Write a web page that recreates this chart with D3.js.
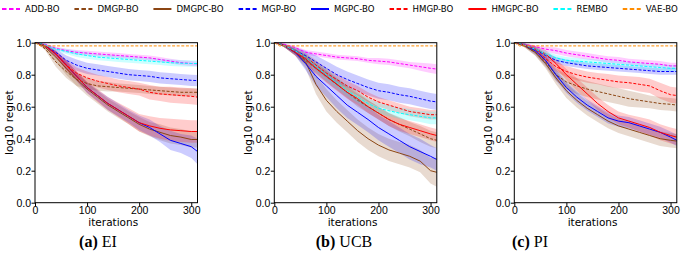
<!DOCTYPE html>
<html lang="en">
<head>
<meta charset="UTF-8">
<title>log10 regret vs iterations</title>
<script src="https://d3js.org/d3.v7.min.js"></script>
<style>
  html, body { margin:0; padding:0; background:#fff; }
  svg { display:block; font-family:"DejaVu Sans", sans-serif; }
  .axis path, .axis line { stroke:#000; }
  .axis text { font-size:10.5px; fill:#000; }
</style>
</head>
<body>
<div id="chart"></div>
<script>
// ---- data ----
const methods = ["ADD-BO","DMGP-BO","DMGPC-BO","MGP-BO","MGPC-BO","HMGP-BO","HMGPC-BO","REMBO","VAE-BO"];
const colors  = ["#ff00ff","#8b4513","#8b4513","#0000ff","#0000ff","#ff0000","#ff0000","#00ffff","#ff8c00"];
const dashed  = [true,true,false,true,false,true,false,true,true];
const iters   = [0,10,20,40,60,80,100,120,140,160,180,200,220,240,260,280,300,312];
const xTicks  = [0,100,200,300];
const yTicks  = [0,0.2,0.4,0.6,0.8,1.0];
const panelCaps = [["(a)"," EI"],["(b)"," UCB"],["(c)"," PI"]];

const eiMean = [
  [1,0.995,0.99,0.965,0.95,0.94,0.935,0.93,0.925,0.92,0.915,0.91,0.905,0.895,0.885,0.875,0.87,0.868],
  [1,0.985,0.96,0.88,0.82,0.77,0.745,0.73,0.725,0.72,0.715,0.71,0.705,0.70,0.695,0.69,0.69,0.69],
  [1,0.99,0.97,0.91,0.84,0.77,0.71,0.66,0.61,0.57,0.53,0.49,0.46,0.44,0.42,0.41,0.395,0.395],
  [1,0.995,0.98,0.94,0.89,0.86,0.84,0.83,0.82,0.81,0.80,0.795,0.79,0.78,0.775,0.77,0.765,0.763],
  [1,0.995,0.98,0.93,0.86,0.79,0.72,0.67,0.62,0.58,0.54,0.50,0.47,0.43,0.39,0.37,0.35,0.32],
  [1,0.995,0.98,0.93,0.86,0.81,0.78,0.76,0.745,0.73,0.72,0.71,0.69,0.68,0.675,0.67,0.665,0.66],
  [1,0.995,0.98,0.93,0.86,0.79,0.72,0.67,0.62,0.58,0.54,0.50,0.48,0.465,0.455,0.45,0.445,0.445],
  [1,0.995,0.985,0.96,0.945,0.93,0.92,0.91,0.905,0.90,0.895,0.89,0.885,0.88,0.875,0.872,0.87,0.87],
  [1,0.98,0.98,0.98,0.98,0.98,0.98,0.98,0.98,0.98,0.98,0.98,0.98,0.98,0.98,0.98,0.98,0.98]
];
const eiBand = [
  [0,0,0.005,0.01,0.012,0.015,0.015,0.015,0.015,0.015,0.015,0.015,0.015,0.015,0.015,0.015,0.015,0.015],
  [0,0.005,0.01,0.03,0.04,0.04,0.035,0.03,0.03,0.025,0.025,0.025,0.025,0.025,0.025,0.025,0.025,0.025],
  [0,0.005,0.01,0.03,0.04,0.04,0.04,0.04,0.04,0.04,0.04,0.045,0.045,0.05,0.05,0.05,0.05,0.05],
  [0,0.005,0.01,0.02,0.03,0.035,0.035,0.035,0.035,0.035,0.035,0.035,0.035,0.035,0.035,0.035,0.035,0.035],
  [0,0.005,0.01,0.02,0.03,0.03,0.035,0.035,0.04,0.04,0.04,0.045,0.05,0.05,0.06,0.06,0.07,0.08],
  [0,0.005,0.01,0.02,0.03,0.035,0.04,0.04,0.04,0.04,0.04,0.04,0.045,0.045,0.05,0.05,0.05,0.05],
  [0,0.005,0.01,0.02,0.03,0.03,0.035,0.04,0.04,0.045,0.05,0.055,0.06,0.065,0.07,0.07,0.07,0.07],
  [0,0.005,0.005,0.01,0.015,0.02,0.02,0.02,0.02,0.02,0.02,0.02,0.02,0.02,0.02,0.02,0.02,0.02],
  [0,0,0,0,0,0,0,0,0,0,0,0,0,0,0,0,0,0]
];

const ucbMean = [
  [1,0.995,0.99,0.97,0.94,0.93,0.92,0.91,0.905,0.90,0.89,0.885,0.88,0.87,0.86,0.85,0.84,0.835],
  [1,0.99,0.98,0.94,0.89,0.84,0.79,0.74,0.69,0.64,0.60,0.56,0.52,0.49,0.46,0.43,0.40,0.39],
  [1,0.99,0.98,0.94,0.88,0.74,0.64,0.57,0.51,0.45,0.40,0.36,0.33,0.31,0.29,0.26,0.20,0.19],
  [1,0.995,0.98,0.95,0.92,0.88,0.84,0.80,0.77,0.745,0.72,0.70,0.69,0.675,0.665,0.65,0.635,0.63],
  [1,0.995,0.98,0.94,0.87,0.79,0.73,0.67,0.61,0.565,0.52,0.47,0.43,0.39,0.35,0.32,0.29,0.27],
  [1,0.995,0.98,0.95,0.91,0.86,0.81,0.77,0.73,0.70,0.66,0.63,0.61,0.59,0.57,0.56,0.55,0.55],
  [1,0.995,0.98,0.94,0.90,0.84,0.79,0.74,0.69,0.65,0.60,0.56,0.52,0.49,0.47,0.45,0.43,0.42],
  [1,0.995,0.98,0.95,0.91,0.85,0.80,0.75,0.70,0.66,0.62,0.59,0.575,0.56,0.55,0.54,0.53,0.53],
  [1,0.98,0.98,0.98,0.98,0.98,0.98,0.98,0.98,0.98,0.98,0.98,0.98,0.98,0.98,0.98,0.98,0.98]
];
const ucbBand = [
  [0,0,0.005,0.01,0.015,0.015,0.015,0.015,0.015,0.015,0.015,0.02,0.02,0.02,0.02,0.025,0.03,0.03],
  [0,0.005,0.01,0.02,0.03,0.03,0.035,0.035,0.035,0.04,0.04,0.04,0.04,0.045,0.045,0.05,0.05,0.05],
  [0,0.005,0.01,0.02,0.04,0.06,0.07,0.07,0.07,0.07,0.07,0.07,0.07,0.07,0.07,0.07,0.08,0.09],
  [0,0.005,0.01,0.02,0.03,0.04,0.045,0.05,0.05,0.05,0.05,0.05,0.05,0.05,0.05,0.05,0.05,0.05],
  [0,0.005,0.01,0.02,0.04,0.06,0.07,0.08,0.08,0.08,0.08,0.08,0.08,0.08,0.08,0.08,0.07,0.07],
  [0,0.005,0.01,0.02,0.025,0.03,0.03,0.03,0.03,0.03,0.03,0.03,0.03,0.03,0.03,0.03,0.03,0.03],
  [0,0.005,0.01,0.02,0.03,0.035,0.04,0.04,0.04,0.04,0.04,0.04,0.04,0.04,0.04,0.04,0.04,0.04],
  [0,0.005,0.01,0.02,0.025,0.03,0.035,0.035,0.035,0.035,0.035,0.035,0.035,0.035,0.035,0.035,0.04,0.04],
  [0,0,0,0,0,0,0,0,0,0,0,0,0,0,0,0,0,0]
];

const piMean = [
  [1,0.995,0.99,0.975,0.96,0.95,0.935,0.925,0.915,0.905,0.895,0.89,0.88,0.875,0.87,0.865,0.855,0.855],
  [1,0.99,0.98,0.94,0.88,0.80,0.755,0.73,0.71,0.695,0.68,0.665,0.65,0.64,0.63,0.62,0.615,0.61],
  [1,0.99,0.98,0.94,0.87,0.78,0.70,0.64,0.59,0.55,0.51,0.48,0.46,0.44,0.42,0.40,0.39,0.385],
  [1,0.995,0.985,0.96,0.92,0.89,0.875,0.865,0.855,0.85,0.845,0.84,0.835,0.83,0.825,0.82,0.82,0.82],
  [1,0.995,0.985,0.95,0.89,0.80,0.72,0.66,0.61,0.57,0.53,0.51,0.50,0.48,0.46,0.44,0.41,0.39],
  [1,0.995,0.985,0.96,0.90,0.85,0.82,0.80,0.785,0.775,0.765,0.755,0.75,0.74,0.73,0.70,0.675,0.67],
  [1,0.995,0.985,0.96,0.93,0.87,0.80,0.74,0.68,0.62,0.57,0.53,0.51,0.49,0.47,0.44,0.42,0.41],
  [1,0.995,0.985,0.96,0.93,0.905,0.89,0.885,0.88,0.875,0.87,0.865,0.86,0.855,0.85,0.845,0.84,0.84],
  [1,0.98,0.98,0.98,0.98,0.98,0.98,0.98,0.98,0.98,0.98,0.98,0.98,0.98,0.98,0.98,0.98,0.98]
];
const piBand = [
  [0,0,0.005,0.01,0.015,0.02,0.02,0.02,0.02,0.02,0.02,0.02,0.02,0.02,0.02,0.02,0.02,0.02],
  [0,0.005,0.01,0.02,0.03,0.04,0.045,0.05,0.05,0.05,0.05,0.05,0.05,0.045,0.04,0.04,0.04,0.04],
  [0,0.005,0.01,0.02,0.03,0.04,0.045,0.045,0.045,0.045,0.045,0.045,0.045,0.045,0.045,0.045,0.045,0.045],
  [0,0.005,0.01,0.015,0.02,0.02,0.02,0.02,0.02,0.02,0.02,0.02,0.02,0.02,0.02,0.02,0.02,0.02],
  [0,0.005,0.01,0.02,0.03,0.035,0.035,0.035,0.035,0.035,0.035,0.035,0.035,0.035,0.035,0.035,0.035,0.035],
  [0,0.005,0.01,0.02,0.025,0.03,0.035,0.035,0.035,0.035,0.04,0.04,0.04,0.045,0.045,0.05,0.05,0.05],
  [0,0.005,0.01,0.02,0.025,0.03,0.035,0.04,0.04,0.04,0.04,0.04,0.04,0.045,0.05,0.05,0.05,0.05],
  [0,0.005,0.01,0.015,0.02,0.02,0.02,0.02,0.02,0.02,0.02,0.02,0.02,0.02,0.02,0.02,0.02,0.02],
  [0,0,0,0,0,0,0,0,0,0,0,0,0,0,0,0,0,0]
];

// ---- layout ----
const W=685, H=254;
const panels=[
  {left:35,   mean:eiMean,  band:eiBand,  capX:98},
  {left:274.3,mean:ucbMean, band:ucbBand, capX:344},
  {left:514.3,mean:piMean,  band:piBand,  capX:530}
];
const pw=162.5, plotTop=42.7, plotBottom=202.7;

const svg=d3.select("#chart").append("svg").attr("width",W).attr("height",H);

// legend
let lx=2;
methods.forEach((m,i)=>{
  svg.append("line").attr("x1",lx).attr("x2",lx+18).attr("y1",9).attr("y2",9)
    .attr("stroke",colors[i]).attr("stroke-width",2)
    .attr("stroke-dasharray",dashed[i]?"4.5,2.5":null);
  const t=svg.append("text").attr("x",lx+23).attr("y",12.2)
    .attr("font-size","8.6px").attr("fill","#000").text(m);
  lx+=23+t.node().getComputedTextLength()+15;
});

panels.forEach((p,pi)=>{
  const x=d3.scaleLinear().domain([0,312]).range([p.left,p.left+pw]);
  const y=d3.scaleLinear().domain([0,1]).range([plotBottom,plotTop]);
  const g=svg.append("g");
  const clipId="clip"+pi;
  g.append("clipPath").attr("id",clipId).append("rect")
    .attr("x",p.left).attr("y",plotTop).attr("width",pw).attr("height",plotBottom-plotTop);
  const plot=g.append("g").attr("clip-path","url(#"+clipId+")");

  const area=d3.area().x(d=>x(d.it)).y0(d=>y(d.v-d.s)).y1(d=>y(d.v+d.s));
  const line=d3.line().x(d=>x(d.it)).y(d=>y(d.v));

  const series=methods.map((m,i)=>iters.map((it,k)=>({it:it,v:p.mean[i][k],s:p.band[i][k]})));

  series.forEach((s,i)=>{
    plot.append("path").datum(s).attr("d",area)
      .attr("fill",colors[i]).attr("fill-opacity",0.2).attr("stroke","none");
  });
  series.forEach((s,i)=>{
    plot.append("path").datum(s).attr("d",line)
      .attr("fill","none").attr("stroke",colors[i]).attr("stroke-width",1)
      .attr("stroke-dasharray",dashed[i]?"3,1.6":null);
  });

  g.append("g").attr("class","axis").attr("transform","translate(0,"+plotBottom+")")
    .call(d3.axisBottom(x).tickValues(xTicks).tickSize(3.5).tickPadding(0.5).tickFormat(d3.format("d")))
    .call(a=>a.select(".domain").remove());
  g.append("g").attr("class","axis").attr("transform","translate("+p.left+",0)")
    .call(d3.axisLeft(y).tickValues(yTicks).tickSize(3.5).tickPadding(0.5).tickFormat(d3.format(".1f")))
    .call(a=>a.select(".domain").remove())
    .call(a=>a.selectAll("text").attr("dy","0.36em"));

  g.append("rect").attr("x",p.left).attr("y",plotTop).attr("width",pw).attr("height",plotBottom-plotTop)
    .attr("fill","none").attr("stroke","#000").attr("stroke-width",1);

  g.append("text").attr("transform","translate("+(p.left-26.5)+","+((plotTop+plotBottom)/2)+") rotate(-90)")
    .attr("text-anchor","middle").attr("dominant-baseline","central")
    .attr("font-size","10.5px").attr("fill","#000").text("log10 regret");
  g.append("text").attr("x",p.left+pw/2-3).attr("y",226)
    .attr("text-anchor","middle").attr("font-size","10.5px").attr("fill","#000").text("iterations");

  const cap=g.append("text").attr("x",p.capX).attr("y",247).attr("text-anchor","middle")
    .attr("font-family","'Liberation Serif', serif").attr("font-size","16px").attr("fill","#000");
  cap.append("tspan").attr("font-weight","bold").text(panelCaps[pi][0]);
  cap.append("tspan").text(panelCaps[pi][1]);
});
</script>
</body>
</html>
